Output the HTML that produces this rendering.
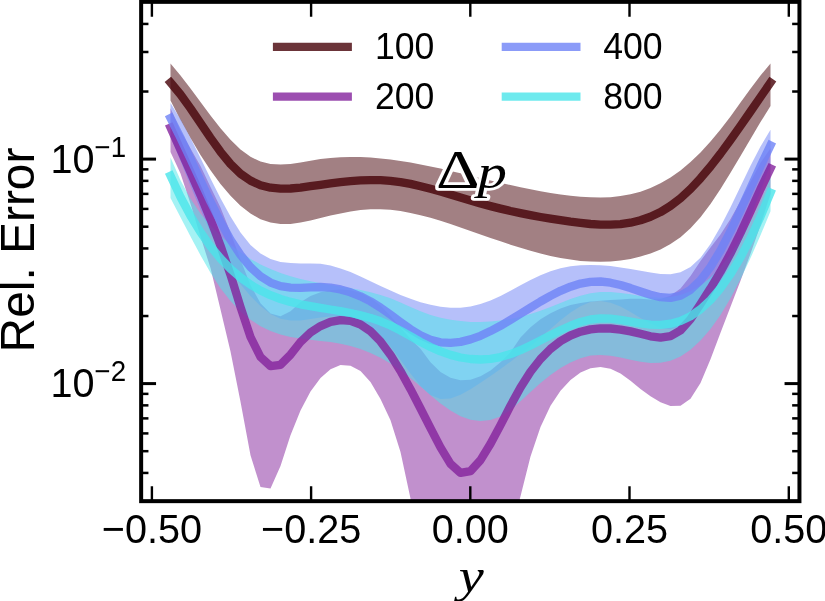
<!DOCTYPE html>
<html><head><meta charset="utf-8"><title>Rel. Error</title>
<style>
html,body{margin:0;padding:0;background:#fff;}
body{width:825px;height:601px;overflow:hidden;position:relative;}
text{font-family:"Liberation Sans",sans-serif;fill:#000;}
.m{font-family:"Liberation Serif","DejaVu Serif",serif;font-style:italic;}
</style></head><body>
<svg width="825" height="601" viewBox="0 0 825 601" style="position:absolute;left:0;top:0;display:block"><defs><clipPath id="ax"><rect x="141.15" y="1.85" width="658.3000000000001" height="499.29999999999995"/></clipPath></defs><rect width="825" height="601" fill="#fff"/><g clip-path="url(#ax)"><path d="M170.5,63.6 L180.5,75.4 L190.5,88.4 L200.5,101.9 L210.5,115.4 L220.5,128.2 L230.5,139.8 L240.5,149.5 L250.5,156.8 L260.5,161.5 L270.5,163.9 L280.5,164.6 L290.5,163.9 L300.5,162.5 L310.5,160.7 L320.5,159.1 L330.5,157.9 L340.5,157.2 L350.5,157.0 L360.5,157.1 L370.5,157.6 L380.5,158.4 L390.5,159.6 L400.5,161.0 L410.5,162.6 L420.5,164.5 L430.5,166.5 L440.5,168.6 L450.5,170.9 L460.5,173.3 L470.5,175.7 L480.5,178.1 L490.5,180.5 L500.5,182.8 L510.5,185.1 L520.5,187.3 L530.5,189.3 L540.5,191.2 L550.5,192.9 L560.5,194.4 L570.5,195.7 L580.5,196.7 L590.5,197.3 L600.5,197.5 L610.5,197.2 L620.5,196.1 L630.5,194.3 L640.5,191.7 L650.5,188.0 L660.5,183.3 L670.5,177.5 L680.5,170.4 L690.5,162.0 L700.5,152.4 L710.5,141.5 L720.5,129.5 L730.5,116.4 L740.5,102.6 L750.5,88.8 L760.5,75.6 L770.5,63.5 L770.5,106.0 L760.5,122.1 L750.5,138.9 L740.5,156.0 L730.5,172.8 L720.5,188.9 L710.5,203.9 L700.5,217.2 L690.5,228.3 L680.5,237.3 L670.5,244.1 L660.5,249.4 L650.5,253.4 L640.5,256.5 L630.5,258.9 L620.5,260.5 L610.5,261.5 L600.5,261.8 L590.5,261.6 L580.5,260.9 L570.5,259.6 L560.5,258.0 L550.5,255.9 L540.5,253.5 L530.5,250.8 L520.5,247.8 L510.5,244.7 L500.5,241.3 L490.5,237.9 L480.5,234.4 L470.5,230.9 L460.5,227.4 L450.5,224.0 L440.5,220.8 L430.5,217.8 L420.5,215.2 L410.5,212.9 L400.5,211.1 L390.5,209.8 L380.5,209.2 L370.5,209.3 L360.5,210.1 L350.5,211.5 L340.5,213.4 L330.5,215.6 L320.5,218.1 L310.5,220.5 L300.5,222.6 L290.5,223.9 L280.5,224.0 L270.5,222.6 L260.5,219.2 L250.5,213.6 L240.5,205.7 L230.5,195.8 L220.5,183.9 L210.5,170.2 L200.5,154.9 L190.5,138.1 L180.5,119.9 L170.5,100.6 Z" fill="#460108" fill-opacity="0.5" stroke="none"/><path d="M170.5,108.3 L180.5,130.9 L190.5,148.4 L200.5,166.0 L210.5,186.9 L220.5,207.4 L230.5,232.4 L240.5,259.7 L250.5,285.2 L260.5,303.2 L270.5,313.6 L280.5,316.3 L290.5,311.2 L300.5,302.2 L310.5,295.9 L320.5,292.3 L330.5,290.2 L340.5,289.4 L350.5,290.3 L360.5,293.1 L370.5,298.1 L380.5,305.4 L390.5,316.1 L400.5,327.5 L410.5,339.0 L420.5,348.7 L430.5,362.3 L440.5,371.9 L450.5,377.8 L460.5,380.3 L470.5,379.7 L480.5,376.3 L490.5,370.4 L500.5,362.2 L510.5,352.2 L520.5,337.4 L530.5,327.2 L540.5,319.3 L550.5,313.2 L560.5,308.4 L570.5,305.1 L580.5,303.0 L590.5,301.6 L600.5,300.7 L610.5,300.1 L620.5,299.5 L630.5,298.8 L640.5,298.8 L650.5,299.5 L660.5,299.1 L670.5,295.8 L680.5,288.4 L690.5,276.1 L700.5,260.9 L710.5,247.6 L720.5,234.4 L730.5,218.9 L740.5,201.1 L750.5,181.7 L760.5,162.8 L770.5,148.3 L770.5,194.0 L760.5,225.2 L750.5,253.8 L740.5,280.7 L730.5,306.8 L720.5,332.8 L710.5,359.3 L700.5,383.1 L690.5,398.8 L680.5,405.8 L670.5,406.1 L660.5,402.3 L650.5,396.3 L640.5,388.9 L630.5,380.7 L620.5,373.4 L610.5,368.8 L600.5,367.1 L590.5,368.2 L580.5,372.4 L570.5,379.9 L560.5,390.7 L550.5,405.8 L540.5,427.1 L530.5,456.6 L520.5,496.3 L510.5,534.3 L500.5,560.0 L490.5,560.0 L480.5,560.0 L470.5,560.0 L460.5,560.0 L450.5,560.0 L440.5,560.0 L430.5,560.0 L420.5,560.0 L410.5,498.6 L400.5,452.0 L390.5,420.3 L380.5,399.0 L370.5,381.9 L360.5,371.0 L350.5,365.7 L340.5,365.1 L330.5,369.3 L320.5,378.1 L310.5,391.6 L300.5,410.5 L290.5,435.2 L280.5,465.9 L270.5,488.5 L260.5,487.0 L250.5,455.3 L240.5,401.8 L230.5,351.5 L220.5,309.6 L210.5,268.1 L200.5,236.6 L190.5,203.7 L180.5,173.6 L170.5,152.0 Z" fill="#83229c" fill-opacity="0.5" stroke="none"/><path d="M170.5,102.9 L180.5,119.3 L190.5,137.9 L200.5,158.0 L210.5,178.4 L220.5,198.3 L230.5,216.6 L240.5,232.4 L250.5,244.9 L260.5,253.5 L270.5,258.9 L280.5,261.9 L290.5,263.1 L300.5,263.4 L310.5,263.4 L320.5,263.8 L330.5,265.5 L340.5,268.4 L350.5,272.1 L360.5,276.5 L370.5,281.2 L380.5,286.0 L390.5,290.6 L400.5,294.9 L410.5,298.8 L420.5,302.2 L430.5,304.8 L440.5,306.7 L450.5,307.7 L460.5,307.7 L470.5,306.6 L480.5,304.1 L490.5,300.5 L500.5,295.9 L510.5,290.7 L520.5,285.3 L530.5,280.1 L540.5,275.2 L550.5,271.2 L560.5,268.3 L570.5,266.3 L580.5,265.2 L590.5,264.9 L600.5,265.2 L610.5,266.1 L620.5,267.4 L630.5,268.9 L640.5,270.7 L650.5,272.5 L660.5,274.0 L670.5,274.2 L680.5,272.2 L690.5,267.1 L700.5,257.8 L710.5,244.1 L720.5,226.8 L730.5,207.2 L740.5,186.4 L750.5,165.8 L760.5,146.5 L770.5,129.8 L770.5,164.2 L760.5,191.0 L750.5,217.1 L740.5,241.4 L730.5,263.1 L720.5,281.9 L710.5,297.1 L700.5,309.2 L690.5,319.4 L680.5,326.6 L670.5,329.2 L660.5,327.7 L650.5,323.5 L640.5,317.9 L630.5,311.9 L620.5,306.6 L610.5,302.7 L600.5,301.0 L590.5,302.1 L580.5,306.2 L570.5,312.4 L560.5,320.3 L550.5,328.9 L540.5,337.6 L530.5,346.0 L520.5,354.1 L510.5,361.7 L500.5,369.1 L490.5,376.1 L480.5,382.8 L470.5,389.3 L460.5,394.8 L450.5,398.4 L440.5,398.9 L430.5,394.9 L420.5,386.0 L410.5,373.6 L400.5,359.9 L390.5,346.7 L380.5,335.3 L370.5,326.8 L360.5,321.1 L350.5,317.8 L340.5,316.3 L330.5,316.4 L320.5,317.5 L310.5,319.1 L300.5,320.4 L290.5,320.6 L280.5,318.7 L270.5,314.0 L260.5,306.1 L250.5,295.9 L240.5,284.2 L230.5,270.1 L220.5,252.7 L210.5,232.4 L200.5,209.8 L190.5,185.7 L180.5,161.0 L170.5,136.4 Z" fill="#6e82f6" fill-opacity="0.5" stroke="none"/><path d="M170.5,157.5 L180.5,180.2 L190.5,198.7 L200.5,213.5 L210.5,225.6 L220.5,235.8 L230.5,244.7 L240.5,252.3 L250.5,258.9 L260.5,264.4 L270.5,269.1 L280.5,273.0 L290.5,276.3 L300.5,279.0 L310.5,281.3 L320.5,283.3 L330.5,285.1 L340.5,286.7 L350.5,288.3 L360.5,290.1 L370.5,292.2 L380.5,294.9 L390.5,298.3 L400.5,302.5 L410.5,307.1 L420.5,311.3 L430.5,314.9 L440.5,317.7 L450.5,319.7 L460.5,321.1 L470.5,321.9 L480.5,322.0 L490.5,321.6 L500.5,320.5 L510.5,318.9 L520.5,316.8 L530.5,314.1 L540.5,310.8 L550.5,307.0 L560.5,303.0 L570.5,299.1 L580.5,295.7 L590.5,293.2 L600.5,291.9 L610.5,291.9 L620.5,292.9 L630.5,294.3 L640.5,295.9 L650.5,297.2 L660.5,297.7 L670.5,297.0 L680.5,295.0 L690.5,291.3 L700.5,285.6 L710.5,277.6 L720.5,267.3 L730.5,254.6 L740.5,239.5 L750.5,221.8 L760.5,201.1 L770.5,177.2 L770.5,211.2 L760.5,235.3 L750.5,258.1 L740.5,279.2 L730.5,298.3 L720.5,315.0 L710.5,329.1 L700.5,340.6 L690.5,349.7 L680.5,356.4 L670.5,360.7 L660.5,362.8 L650.5,362.9 L640.5,361.7 L630.5,359.7 L620.5,357.5 L610.5,355.7 L600.5,354.9 L590.5,355.6 L580.5,358.2 L570.5,362.4 L560.5,368.0 L550.5,375.0 L540.5,383.0 L530.5,391.9 L520.5,401.3 L510.5,409.8 L500.5,416.4 L490.5,420.1 L480.5,421.1 L470.5,419.8 L460.5,416.2 L450.5,410.6 L440.5,403.5 L430.5,395.2 L420.5,386.6 L410.5,378.0 L400.5,370.2 L390.5,363.4 L380.5,357.7 L370.5,352.9 L360.5,349.1 L350.5,346.0 L340.5,343.7 L330.5,342.1 L320.5,340.9 L310.5,339.8 L300.5,338.6 L290.5,336.9 L280.5,334.5 L270.5,331.0 L260.5,326.2 L250.5,319.8 L240.5,311.6 L230.5,301.1 L220.5,288.2 L210.5,272.7 L200.5,255.3 L190.5,236.5 L180.5,217.2 L170.5,198.1 Z" fill="#4ae5ea" fill-opacity="0.5" stroke="none"/><path d="M170.5,82.5 L180.5,94.5 L190.5,108.4 L200.5,123.1 L210.5,137.9 L220.5,151.8 L230.5,164.0 L240.5,173.7 L250.5,180.6 L260.5,185.2 L270.5,187.7 L280.5,188.7 L290.5,188.5 L300.5,187.6 L310.5,186.2 L320.5,184.8 L330.5,183.4 L340.5,182.1 L350.5,181.1 L360.5,180.4 L370.5,180.1 L380.5,180.2 L390.5,180.9 L400.5,182.1 L410.5,183.9 L420.5,186.2 L430.5,188.8 L440.5,191.6 L450.5,194.6 L460.5,197.6 L470.5,200.6 L480.5,203.5 L490.5,206.1 L500.5,208.6 L510.5,211.0 L520.5,213.1 L530.5,215.1 L540.5,217.0 L550.5,218.7 L560.5,220.2 L570.5,221.7 L580.5,222.9 L590.5,224.0 L600.5,224.6 L610.5,224.7 L620.5,224.1 L630.5,222.7 L640.5,220.3 L650.5,216.8 L660.5,212.1 L670.5,205.9 L680.5,198.3 L690.5,189.0 L700.5,178.3 L710.5,166.5 L720.5,153.6 L730.5,140.0 L740.5,125.9 L750.5,111.5 L760.5,97.0 L770.5,82.6" fill="none" stroke="#460108" stroke-opacity="0.8" stroke-width="8.33" stroke-linecap="square" stroke-linejoin="round"/><path d="M170.5,127.7 L180.5,149.9 L190.5,172.2 L200.5,195.0 L210.5,219.3 L220.5,245.7 L230.5,274.8 L240.5,306.9 L250.5,337.0 L260.5,357.0 L270.5,366.1 L280.5,364.8 L290.5,354.7 L300.5,342.0 L310.5,332.5 L320.5,326.1 L330.5,321.9 L340.5,320.1 L350.5,320.9 L360.5,324.5 L370.5,331.3 L380.5,341.4 L390.5,354.9 L400.5,371.1 L410.5,389.2 L420.5,408.5 L430.5,428.2 L440.5,447.4 L450.5,463.8 L460.5,472.9 L470.5,471.1 L480.5,460.1 L490.5,443.8 L500.5,425.1 L510.5,405.7 L520.5,387.5 L530.5,371.8 L540.5,359.0 L550.5,348.9 L560.5,341.1 L570.5,335.5 L580.5,331.7 L590.5,329.4 L600.5,328.4 L610.5,328.5 L620.5,329.6 L630.5,331.4 L640.5,333.8 L650.5,336.3 L660.5,337.6 L670.5,336.1 L680.5,330.4 L690.5,319.3 L700.5,304.0 L710.5,288.3 L720.5,271.7 L730.5,253.3 L740.5,233.0 L750.5,211.2 L760.5,189.1 L770.5,168.5" fill="none" stroke="#83229c" stroke-opacity="0.8" stroke-width="8.33" stroke-linecap="square" stroke-linejoin="round"/><path d="M170.5,118.2 L180.5,137.9 L190.5,158.9 L200.5,180.5 L210.5,201.7 L220.5,221.7 L230.5,239.7 L240.5,254.9 L250.5,267.1 L260.5,276.3 L270.5,282.6 L280.5,286.2 L290.5,287.7 L300.5,287.8 L310.5,287.3 L320.5,287.0 L330.5,287.7 L340.5,289.4 L350.5,292.3 L360.5,296.3 L370.5,301.4 L380.5,307.6 L390.5,314.7 L400.5,322.1 L410.5,329.2 L420.5,335.3 L430.5,339.8 L440.5,342.3 L450.5,342.9 L460.5,341.9 L470.5,339.4 L480.5,335.8 L490.5,331.1 L500.5,325.8 L510.5,319.9 L520.5,313.8 L530.5,307.6 L540.5,301.5 L550.5,295.9 L560.5,290.8 L570.5,286.7 L580.5,283.6 L590.5,281.8 L600.5,281.5 L610.5,282.7 L620.5,285.0 L630.5,288.1 L640.5,291.5 L650.5,294.7 L660.5,297.2 L670.5,297.9 L680.5,295.7 L690.5,289.8 L700.5,280.2 L710.5,267.0 L720.5,250.5 L730.5,231.2 L740.5,210.1 L750.5,188.1 L760.5,166.3 L770.5,145.4" fill="none" stroke="#6e82f6" stroke-opacity="0.8" stroke-width="8.33" stroke-linecap="square" stroke-linejoin="round"/><path d="M170.5,175.7 L180.5,197.0 L190.5,215.8 L200.5,232.2 L210.5,246.4 L220.5,258.5 L230.5,268.9 L240.5,277.5 L250.5,284.7 L260.5,290.5 L270.5,295.2 L280.5,299.0 L290.5,301.9 L300.5,304.3 L310.5,306.2 L320.5,307.9 L330.5,309.5 L340.5,311.1 L350.5,313.0 L360.5,315.2 L370.5,317.9 L380.5,321.3 L390.5,325.5 L400.5,330.6 L410.5,336.2 L420.5,341.9 L430.5,347.0 L440.5,351.4 L450.5,354.9 L460.5,357.5 L470.5,359.0 L480.5,359.5 L490.5,358.9 L500.5,357.1 L510.5,354.1 L520.5,350.2 L530.5,345.5 L540.5,340.4 L550.5,335.2 L560.5,330.2 L570.5,325.7 L580.5,322.0 L590.5,319.5 L600.5,318.4 L610.5,318.7 L620.5,319.9 L630.5,321.6 L640.5,323.4 L650.5,324.6 L660.5,324.9 L670.5,323.7 L680.5,320.9 L690.5,316.2 L700.5,309.3 L710.5,300.0 L720.5,288.2 L730.5,274.0 L740.5,257.4 L750.5,238.2 L760.5,216.7 L770.5,192.7" fill="none" stroke="#4ae5ea" stroke-opacity="0.8" stroke-width="8.33" stroke-linecap="square" stroke-linejoin="round"/></g><g stroke="#000" stroke-linecap="butt"><line x1="151.9" y1="501.15" x2="151.9" y2="486.25" stroke-width="2.4"/><line x1="151.9" y1="1.85" x2="151.9" y2="16.75" stroke-width="2.4"/><line x1="311.1" y1="501.15" x2="311.1" y2="486.25" stroke-width="2.4"/><line x1="311.1" y1="1.85" x2="311.1" y2="16.75" stroke-width="2.4"/><line x1="470.3" y1="501.15" x2="470.3" y2="486.25" stroke-width="2.4"/><line x1="470.3" y1="1.85" x2="470.3" y2="16.75" stroke-width="2.4"/><line x1="629.5" y1="501.15" x2="629.5" y2="486.25" stroke-width="2.4"/><line x1="629.5" y1="1.85" x2="629.5" y2="16.75" stroke-width="2.4"/><line x1="788.8" y1="501.15" x2="788.8" y2="486.25" stroke-width="2.4"/><line x1="788.8" y1="1.85" x2="788.8" y2="16.75" stroke-width="2.4"/><line x1="141.15" y1="159.10" x2="156.05" y2="159.10" stroke-width="3.0"/><line x1="799.45" y1="159.10" x2="784.5500000000001" y2="159.10" stroke-width="3.0"/><line x1="141.15" y1="383.60" x2="156.05" y2="383.60" stroke-width="3.0"/><line x1="799.45" y1="383.60" x2="784.5500000000001" y2="383.60" stroke-width="3.0"/><line x1="141.15" y1="91.52" x2="148.45000000000002" y2="91.52" stroke-width="2.5"/><line x1="799.45" y1="91.52" x2="792.1500000000001" y2="91.52" stroke-width="2.5"/><line x1="141.15" y1="51.99" x2="148.45000000000002" y2="51.99" stroke-width="2.5"/><line x1="799.45" y1="51.99" x2="792.1500000000001" y2="51.99" stroke-width="2.5"/><line x1="141.15" y1="23.94" x2="148.45000000000002" y2="23.94" stroke-width="2.5"/><line x1="799.45" y1="23.94" x2="792.1500000000001" y2="23.94" stroke-width="2.5"/><line x1="141.15" y1="316.02" x2="148.45000000000002" y2="316.02" stroke-width="2.5"/><line x1="799.45" y1="316.02" x2="792.1500000000001" y2="316.02" stroke-width="2.5"/><line x1="141.15" y1="276.49" x2="148.45000000000002" y2="276.49" stroke-width="2.5"/><line x1="799.45" y1="276.49" x2="792.1500000000001" y2="276.49" stroke-width="2.5"/><line x1="141.15" y1="248.44" x2="148.45000000000002" y2="248.44" stroke-width="2.5"/><line x1="799.45" y1="248.44" x2="792.1500000000001" y2="248.44" stroke-width="2.5"/><line x1="141.15" y1="226.68" x2="148.45000000000002" y2="226.68" stroke-width="2.5"/><line x1="799.45" y1="226.68" x2="792.1500000000001" y2="226.68" stroke-width="2.5"/><line x1="141.15" y1="208.91" x2="148.45000000000002" y2="208.91" stroke-width="2.5"/><line x1="799.45" y1="208.91" x2="792.1500000000001" y2="208.91" stroke-width="2.5"/><line x1="141.15" y1="193.88" x2="148.45000000000002" y2="193.88" stroke-width="2.5"/><line x1="799.45" y1="193.88" x2="792.1500000000001" y2="193.88" stroke-width="2.5"/><line x1="141.15" y1="180.86" x2="148.45000000000002" y2="180.86" stroke-width="2.5"/><line x1="799.45" y1="180.86" x2="792.1500000000001" y2="180.86" stroke-width="2.5"/><line x1="141.15" y1="169.37" x2="148.45000000000002" y2="169.37" stroke-width="2.5"/><line x1="799.45" y1="169.37" x2="792.1500000000001" y2="169.37" stroke-width="2.5"/><line x1="141.15" y1="472.94" x2="148.45000000000002" y2="472.94" stroke-width="2.5"/><line x1="799.45" y1="472.94" x2="792.1500000000001" y2="472.94" stroke-width="2.5"/><line x1="141.15" y1="451.18" x2="148.45000000000002" y2="451.18" stroke-width="2.5"/><line x1="799.45" y1="451.18" x2="792.1500000000001" y2="451.18" stroke-width="2.5"/><line x1="141.15" y1="433.41" x2="148.45000000000002" y2="433.41" stroke-width="2.5"/><line x1="799.45" y1="433.41" x2="792.1500000000001" y2="433.41" stroke-width="2.5"/><line x1="141.15" y1="418.38" x2="148.45000000000002" y2="418.38" stroke-width="2.5"/><line x1="799.45" y1="418.38" x2="792.1500000000001" y2="418.38" stroke-width="2.5"/><line x1="141.15" y1="405.36" x2="148.45000000000002" y2="405.36" stroke-width="2.5"/><line x1="799.45" y1="405.36" x2="792.1500000000001" y2="405.36" stroke-width="2.5"/><line x1="141.15" y1="393.87" x2="148.45000000000002" y2="393.87" stroke-width="2.5"/><line x1="799.45" y1="393.87" x2="792.1500000000001" y2="393.87" stroke-width="2.5"/></g><rect x="141.15" y="1.85" width="658.3000000000001" height="499.29999999999995" fill="none" stroke="#000" stroke-width="4.0"/><line x1="272.9" y1="46.8" x2="351.9" y2="46.8" stroke="#460108" stroke-opacity="0.8" stroke-width="8.33"/><line x1="272.9" y1="96.6" x2="351.9" y2="96.6" stroke="#83229c" stroke-opacity="0.8" stroke-width="8.33"/><line x1="501.7" y1="46.8" x2="580.5" y2="46.8" stroke="#6e82f6" stroke-opacity="0.8" stroke-width="8.33"/><line x1="501.7" y1="96.6" x2="580.5" y2="96.6" stroke="#4ae5ea" stroke-opacity="0.8" stroke-width="8.33"/><text transform="translate(151.9,543.2) scale(1,1.04)" font-size="39.6" text-anchor="middle">−0.50</text>
<text transform="translate(311.1,543.2) scale(1,1.04)" font-size="39.6" text-anchor="middle">−0.25</text>
<text transform="translate(470.3,543.2) scale(1,1.04)" font-size="39.6" text-anchor="middle">0.00</text>
<text transform="translate(629.5,543.2) scale(1,1.04)" font-size="39.6" text-anchor="middle">0.25</text>
<text transform="translate(788.8,543.2) scale(1,1.04)" font-size="39.6" text-anchor="middle">0.50</text>
<text transform="translate(50.5,172.8) scale(1,1.04)" font-size="39.6" text-anchor="start">10<tspan font-size="27.72" dy="-15.6">−1</tspan></text>
<text transform="translate(50.5,397.3) scale(1,1.04)" font-size="39.6" text-anchor="start">10<tspan font-size="27.72" dy="-15.6">−2</tspan></text>
<text transform="translate(375.0,59.2) scale(1,1.04)" font-size="35.6" text-anchor="start">100</text>
<text transform="translate(375.0,108.9) scale(1,1.04)" font-size="35.6" text-anchor="start">200</text>
<text transform="translate(603.3,59.2) scale(1,1.04)" font-size="35.6" text-anchor="start">400</text>
<text transform="translate(603.3,108.9) scale(1,1.04)" font-size="35.6" text-anchor="start">800</text>
<text font-size="47.9" text-anchor="middle" transform="translate(33.8,250.0) rotate(-90)">Rel. Error</text>
<text class="m" font-size="49" text-anchor="middle" transform="translate(471.2,592) scale(1.15,1)">y</text>
<g stroke="#fff" stroke-width="5.4" stroke-linejoin="round" paint-order="stroke">
<text font-size="54.5" transform="translate(436.0,188.3) scale(1.27,1)" style="font-family:'Liberation Serif',serif">Δ</text>
<text class="m" font-size="49" transform="translate(477.5,188.3) scale(1.2,1)">p</text>
</g></svg>
</body></html>
